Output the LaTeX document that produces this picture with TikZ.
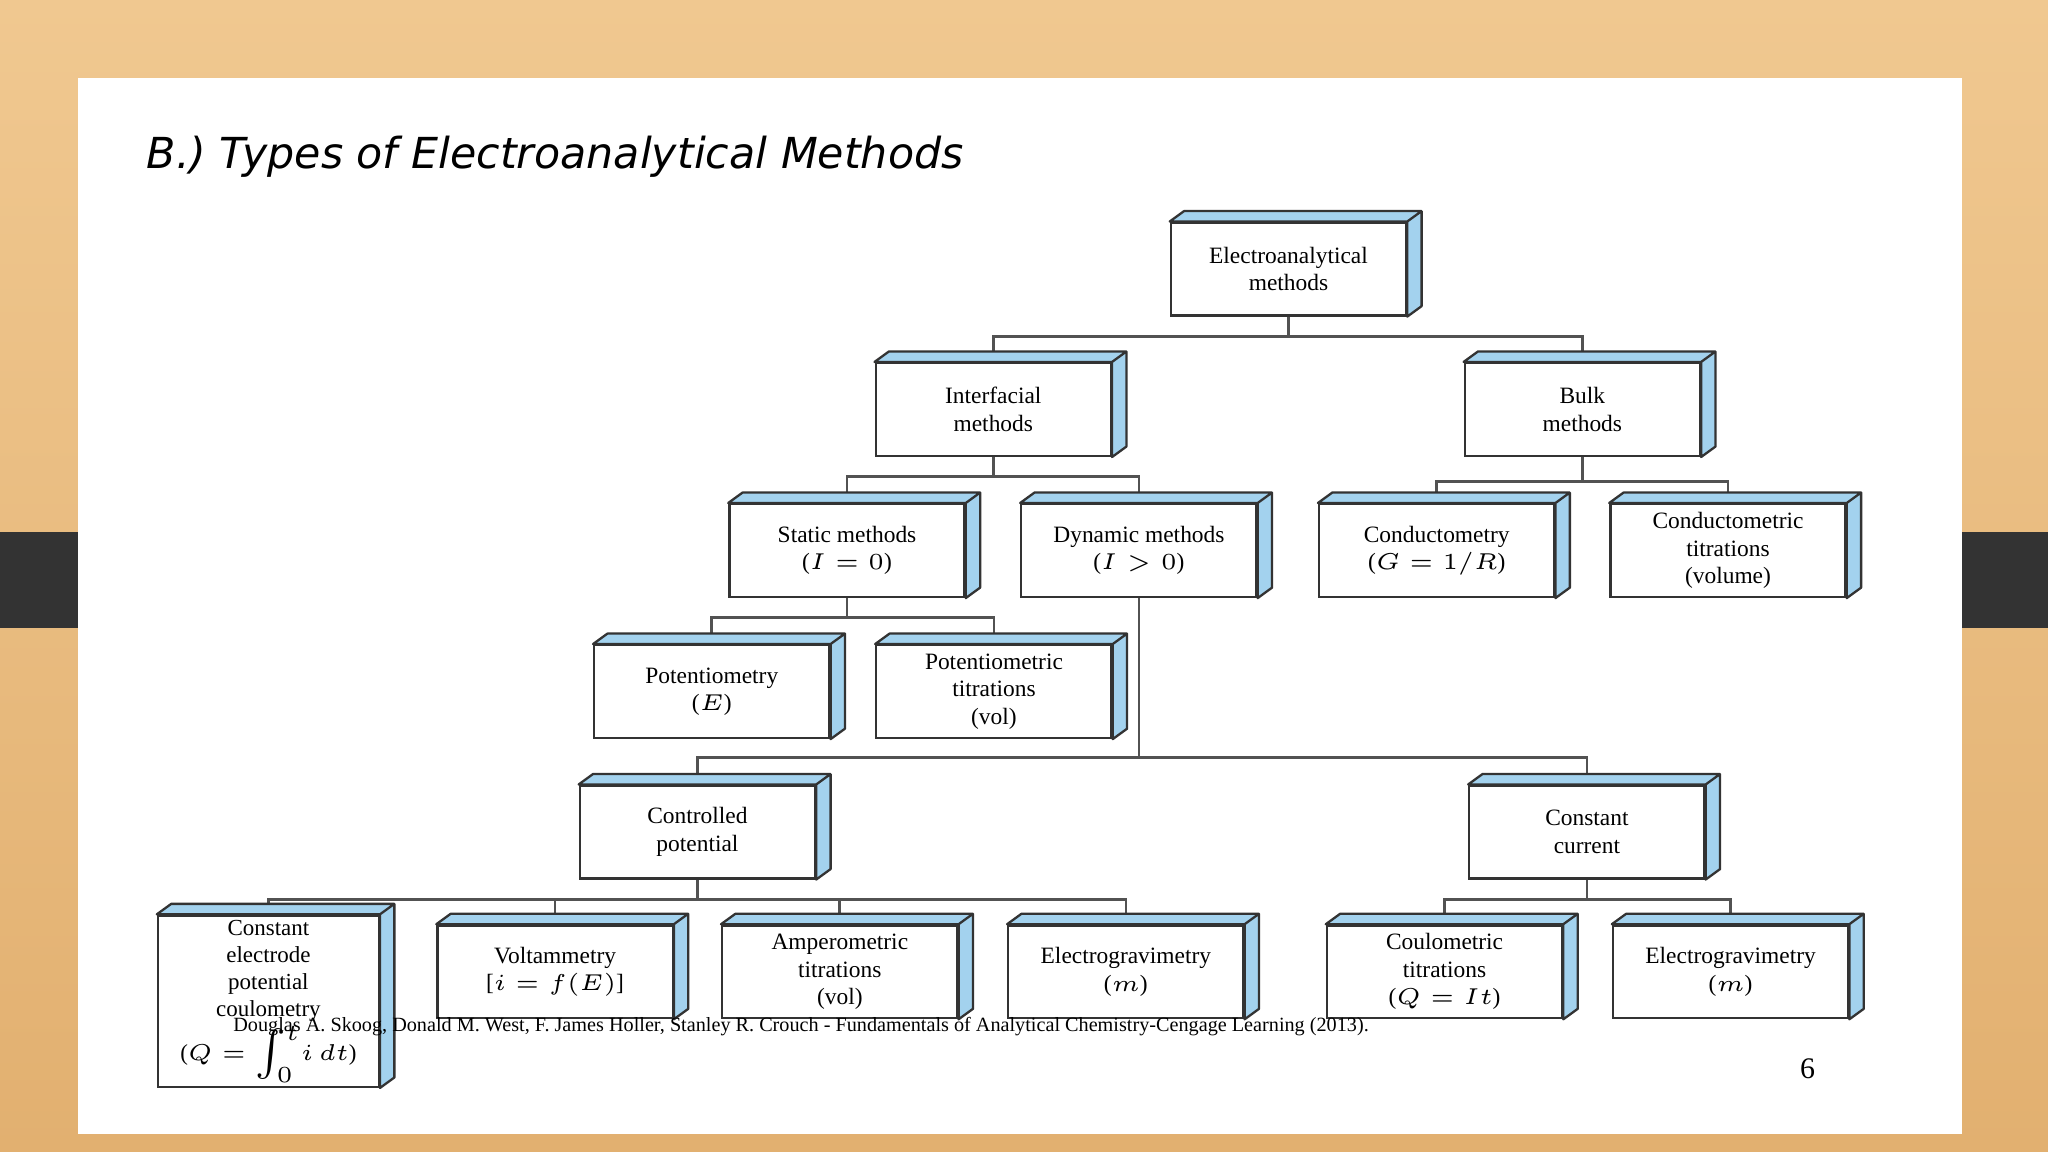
\documentclass[tikz,border=0pt]{standalone}
\usepackage{fontspec}
\setmainfont{Liberation Serif}
\newfontfamily\titlefont{DejaVu Sans}
\usetikzlibrary{backgrounds}
\definecolor{boxblue}{HTML}{A3D2EE}
\definecolor{edge}{HTML}{333333}
\definecolor{woodA}{HTML}{F0C890}
\definecolor{woodB}{HTML}{E2B070}
\tikzset{
  box3d/.style={draw=edge, line width=0.5pt, fill=white, minimum width=1.8cm, minimum height=0.71cm,
    align=center, inner sep=1pt, font=\fontsize{5.1}{6}\selectfont,
    append after command={\pgfextra{\draw[draw=edge,line width=0.5pt,fill=boxblue,line join=round]
      (\tikzlastnode.north west) -- ++(11,-8) -- ([shift={(11,-8)}]\tikzlastnode.north east)
      -- ([shift={(11,-8)}]\tikzlastnode.south east) -- (\tikzlastnode.south east)
      -- (\tikzlastnode.north east) -- cycle
      (\tikzlastnode.north east) -- ++(11,-8);}}},
  conn/.style={draw=edge!85, line width=0.6pt}
}
\begin{document}
\begin{tikzpicture}[x=0.01cm,y=-0.01cm]
\useasboundingbox (0,0) rectangle (1568,882);
\node[box3d] (root) at (986.5,206) {Electroanalytical\\methods};
\node[box3d] (inter) at (760.5,313.5) {Interfacial\\methods};
\node[box3d] (bulk) at (1211.5,313.5) {Bulk\\methods};
\node[box3d] (stat) at (648.5,421.5) {Static methods\\($I=0$)};
\node[box3d] (dyn) at (872,421.5) {Dynamic methods\\($I>0$)};
\node[box3d] (cond) at (1100,421.5) {Conductometry\\($G=1/R$)};
\node[box3d] (condt) at (1323,421.5) {Conductometric\\titrations\\(volume)};
\node[box3d] (pot) at (545,529.5) {Potentiometry\\($E$)};
\node[box3d] (pott) at (761,529.5) {Potentiometric\\titrations\\(vol)};
\node[box3d] (ctrl) at (534,637) {Controlled\\potential};
\node[box3d] (cc) at (1215,637) {Constant\\current};
\node[box3d, minimum width=1.69cm, minimum height=1.15cm, font=\fontsize{5}{5.9}\selectfont] (cep) at (205.5,766.5) {Constant\\electrode\\potential\\coulometry\\($Q=\int_0^t\! i\,dt$)};
\node[box3d] (volt) at (425,744) {Voltammetry\\{}[$i=f(E)$]};
\node[box3d] (amp) at (643,744) {Amperometric\\titrations\\(vol)};
\node[box3d] (eg1) at (862,744) {Electrogravimetry\\($m$)};
\node[box3d] (coul) at (1106,744) {Coulometric\\titrations\\($Q=It$)};
\node[box3d] (eg2) at (1325,744) {Electrogravimetry\\($m$)};
\node[anchor=west, font=\titlefont\itshape\fontsize{9.3}{11}\selectfont] (title) at (100,120) {B.) Types of Electroanalytical Methods};
\node[anchor=west, inner sep=0pt, font=\fontsize{4.4}{5}\selectfont] (cite) at (178,786) {Douglas A. Skoog, Donald M. West, F. James Holler, Stanley R. Crouch - Fundamentals of Analytical Chemistry-Cengage Learning (2013).};
\node[font=\fontsize{6.5}{7}\selectfont] (pg) at (1384,818) {6};
\begin{scope}[on background layer]
\shade[top color=woodA, bottom color=woodB] (0,0) rectangle (1568,882);
\fill[black!80] (0,407) rectangle (1568,481);
\fill[white] (60,60) rectangle (1502,868);
\draw[conn] (root.south) -- ++(0,15) coordinate (j1) -| (inter.north);
\draw[conn] (j1) -| (bulk.north);
\draw[conn] (inter.south) -- ++(0,15) coordinate (j2) -| (stat.north);
\draw[conn] (j2) -| (dyn.north);
\draw[conn] (bulk.south) -- ++(0,19) coordinate (j3) -| (cond.north);
\draw[conn] (j3) -| (condt.north);
\draw[conn] (stat.south) -- ++(0,15) coordinate (j4) -| (pot.north);
\draw[conn] (j4) -| (pott.north);
\draw[conn] (dyn.south) -- ++(0,122) coordinate (j5) -| (ctrl.north);
\draw[conn] (j5) -| (cc.north);
\draw[conn] (ctrl.south) -- ++(0,15) coordinate (j6) -| (cep.north);
\draw[conn] (j6) -| (volt.north);
\draw[conn] (j6) -| (amp.north);
\draw[conn] (j6) -| (eg1.north);
\draw[conn] (cc.south) -- ++(0,15) coordinate (j7) -| (coul.north);
\draw[conn] (j7) -| (eg2.north);
\end{scope}
\end{tikzpicture}
\end{document}
